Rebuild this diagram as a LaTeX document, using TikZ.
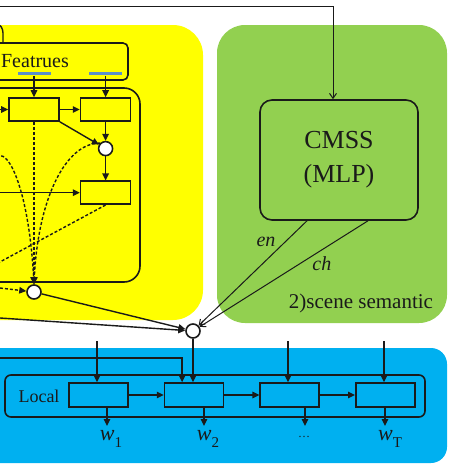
\documentclass[tikz,border=0pt]{standalone}
\usepackage{fontspec}
\setmainfont{Liberation Serif}
\usetikzlibrary{arrows.meta,positioning}
\definecolor{areaYellow}{HTML}{FFFF00}
\definecolor{areaGreen}{HTML}{92D050}
\definecolor{areaBlue}{HTML}{00B0F0}
\definecolor{barBlue}{HTML}{5B8FCB}
\definecolor{ink}{HTML}{1A1A1A}
\newcommand{\wsym}[1]{\textit{w}\raisebox{-7pt}{\fontsize{15}{15}\selectfont #1}}

\begin{document}
\begin{tikzpicture}[x=1pt, y=-1pt, line width=1.4pt, ink,
    cell/.style={draw, line width=1.6pt, minimum width=50pt, minimum height=23pt, inner sep=0pt},
    dcell/.style={cell, minimum width=59pt, minimum height=24pt},
    gate/.style={draw, line width=1.6pt, circle, fill=white, minimum size=14pt, inner sep=0pt},
    featbar/.style={fill=barBlue, minimum width=33pt, minimum height=3.5pt, inner sep=0pt},
    flow/.style={-{Triangle[length=7pt,width=6.5pt]}},
    thin flow/.style={-{Straight Barb[length=5pt,width=7pt]}, line width=1pt},
    att/.style={dash pattern=on 3pt off 2pt},
    wlabel/.style={font=\fontsize{22}{22}\selectfont, anchor=base}]
  \useasboundingbox (0,0) rectangle (474,474);
  % areas
  \fill[areaYellow, rounded corners=30pt] (-40,25) rectangle (203,320);
  \fill[areaGreen, rounded corners=28pt] (217,25) rectangle (447,323);
  \fill[areaBlue, rounded corners=16pt] (-40,348) rectangle (447,463);

  % features
  \draw (-4,24) to[out=0,in=90] (3,33) -- (3,43);
  \draw[line width=1.6pt, rounded corners=5pt] (-20,43) rectangle (128,80);
  \node[font=\fontsize{20}{20}\selectfont] (feat) at (35,61) {Featrues};

  % attention block
  \draw[line width=1.6pt, rounded corners=16pt] (-20,88) -| (140,282) -- (-20,282);
  \node[cell] (hA) at (34,109.5) {};
  \node[cell, right=20pt of hA] (hB) {};
  \node[gate, below=19pt of hB] (c1) {};
  \node[cell, below=24pt of c1] (hD) {};
  \node[gate] (c2) at (34,292) {};
  \node[gate] (c3) at (193,331) {};
  \node[featbar] (bar1) at (34,73.5) {};
  \node[featbar] (bar2) at (bar1 -| hB) {};
  \coordinate (inA) at (0,109.5);
  \coordinate (inD) at (hD -| 0,0);
  \coordinate (inL) at (-10,170);
  \coordinate (inC2) at (0,288);
  \coordinate (inC3) at (0,318);
  \coordinate (outD) at (-2,263);
  \draw[flow] (inA) -- (hA);
  \draw[flow] (hA) -- (hB);
  \draw[flow] (bar1) -- (hA);
  \draw[flow] (bar2) -- (hB);
  \draw[flow] (hB) -- (c1);
  \draw[flow] (hA.south east) -- (c1);
  \draw[flow] (c1) -- (hD);
  \draw[flow] (inD) -- (hD);
  \draw[att] (hD.south) -- (outD);
  \draw[att, flow] (hA) -- (c2);
  \draw[att, flow] (c1.north west) .. controls (65,143) and (38,200) .. (c2.north);
  \draw[att, flow] (inL) .. controls (0,130) and (28,175) .. (c2.north);
  \draw[att, flow] (inC2) -- (c2);
  \draw[flow] (c2) -- (c3);
  \draw[flow] (inC3) -- (c3);

  % scene semantic
  \coordinate (topin) at (-2,6);
  \node[draw, line width=1.6pt, rounded corners=12pt, minimum width=158pt, minimum height=120pt, align=center, font=\fontsize{26}{34}\selectfont] (cmss) at (339,160) {CMSS\\(MLP)};
  \node[font=\fontsize{21}{21}\selectfont] (scene) at (361,303) {2)scene semantic};
  \draw[thin flow] (topin) -| ([xshift=-6pt]cmss.north);
  \draw[thin flow] ([xshift=-32pt]cmss.south) -- (c3) node[pos=0.2, left=6pt, font=\itshape\fontsize{20}{20}\selectfont] (en) {en};
  \draw[thin flow] ([xshift=29pt]cmss.south) -- (c3) node[pos=0.4, right=8pt, font=\itshape\fontsize{20}{20}\selectfont] (ch) {ch};

  % decoder
  \node[draw, line width=1.6pt, rounded corners=6pt, minimum width=420pt, minimum height=42pt, inner sep=0pt] (lstm) at (215,396) {};
  \node[font=\fontsize{18}{18}\selectfont] (local) at (39,396) {Local};
  \node[dcell] (l1) at (98.5,395) {};
  \node[dcell, right=35pt of l1] (l2) {};
  \node[dcell, right=35pt of l2] (l3) {};
  \node[dcell, right=35pt of l3] (l4) {};
  \foreach \a/\b in {l1/l2, l2/l3, l3/l4}
    \draw[flow] (\a) -- (\b);
  \coordinate (in1) at (97,341);
  \coordinate (in3) at (288,341);
  \coordinate (in4) at (384,341);
  \coordinate (glob) at (0,358);
  \draw[flow] (in1) -- (in1 |- l1.north);
  \draw[flow] (c3) -- (c3 |- l2.north);
  \draw[flow] (glob) -| ([xshift=-12pt]l2.north);
  \draw[flow] (in3) -- (in3 |- l3.north);
  \draw[flow] (in4) -- (in4 |- l4.north);
  \coordinate (o1) at (107,426);
  \coordinate (o2) at (204,426);
  \coordinate (o3) at (305,426);
  \coordinate (o4) at (385,426);
  \foreach \o/\c in {o1/l1, o2/l2, o3/l3, o4/l4}
    \draw[flow] (\o |- \c.south) -- (\o);
  \node[wlabel] (w1) at (111,440) {\wsym{1}};
  \node[wlabel] (w2) at (208,440) {\wsym{2}};
  \node[wlabel, font=\fontsize{12}{12}\selectfont] (wdots) at (304,437) {…};
  \node[wlabel] (wT) at (390,440) {\wsym{T}};
\end{tikzpicture}
\end{document}
